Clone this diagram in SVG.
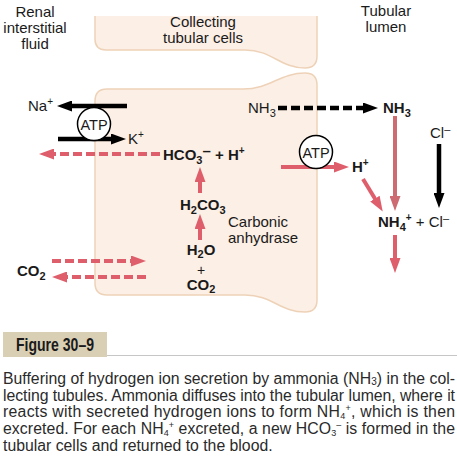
<svg xmlns="http://www.w3.org/2000/svg" width="457" height="458" viewBox="0 0 457 458">
<style>
text{font-family:"Liberation Sans",Arial,sans-serif;fill:#1a1a1a}
.lbl{font-size:15px}
.b{font-size:15px;font-weight:bold}
.cap{font-size:15.8px;fill:#2a2a2a}
.cell{fill:#fcefe5;stroke:#eed2b8;stroke-width:1.5}
.red{stroke:#de5f6b;stroke-width:4;fill:none}
.redd{stroke:#de5f6b;stroke-width:4;fill:none;stroke-dasharray:9 4}
.blk{stroke:#000;stroke-width:4.5;fill:none}
.blkd{stroke:#000;stroke-width:4.5;fill:none;stroke-dasharray:9 4}
.atp{fill:#fff;stroke:#000;stroke-width:1.5}
</style>
<defs>
<marker id="ar" markerUnits="userSpaceOnUse" markerWidth="15" markerHeight="11" refX="4" refY="5.5" orient="auto"><path d="M0,0 L15,5.5 L0,11 Z" fill="#de5f6b"/></marker>
<marker id="ab" markerUnits="userSpaceOnUse" markerWidth="15" markerHeight="11" refX="4" refY="5.5" orient="auto"><path d="M0,0 L15,5.5 L0,11 Z" fill="#000"/></marker>
<marker id="arm" markerUnits="userSpaceOnUse" markerWidth="15" markerHeight="11" refX="4" refY="5.5" orient="auto"><path d="M0,0 L15,5.5 L0,11 Z" fill="#cd6a72"/></marker>
</defs>

<g id="top-cell">
<path d="M95,16 L95,39 Q95,50 106,50 L245,50 C272,50 280,68 305,68 Q317,68 317,56 L317,16 Z" fill="#fcefe5"/>
<path class="cell" d="M95,16 L95,39 Q95,50 106,50 L245,50 C272,50 280,68 305,68 Q317,68 317,56 L317,16" fill="none"/>
<text class="lbl" x="203" y="27" text-anchor="middle">Collecting</text>
<text class="lbl" x="203" y="43" text-anchor="middle">tubular cells</text>
</g>

<g id="bottom-cell">
<path class="cell" d="M95,101 Q95,89 107,89 L243,89 C270,89 280,73 305,73 Q317,73 317,85 L317,300 Q317,312 305,312 C280,312 272,295 245,295 L107,295 Q95,295 95,283 Z"/>
</g>

<g id="labels">
<text class="lbl" x="35" y="17" text-anchor="middle">Renal</text>
<text class="lbl" x="35" y="33" text-anchor="middle">interstitial</text>
<text class="lbl" x="35" y="49" text-anchor="middle">fluid</text>
<text class="lbl" x="386" y="16" text-anchor="middle">Tubular</text>
<text class="lbl" x="386" y="32" text-anchor="middle">lumen</text>
</g>

<g id="connectors">
<line class="blk" x1="127" y1="106" x2="68" y2="106" marker-end="url(#ab)"/>
<line class="blk" x1="58" y1="139" x2="115" y2="139" marker-end="url(#ab)"/>
<line class="redd" x1="160" y1="154" x2="50" y2="154" marker-end="url(#ar)"/>
<line class="red" x1="200" y1="193" x2="200" y2="178" marker-end="url(#ar)"/>
<line class="red" x1="200" y1="240" x2="200" y2="225" marker-end="url(#ar)"/>
<line class="redd" x1="52" y1="261" x2="135" y2="261" marker-end="url(#ar)"/>
<line class="redd" x1="146" y1="277" x2="63" y2="277" marker-end="url(#ar)"/>
<line class="blkd" x1="278" y1="108" x2="367" y2="108" marker-end="url(#ab)"/>
<line class="red" x1="281" y1="167" x2="338" y2="167" marker-end="url(#ar)"/>
<line stroke="#cd6a72" stroke-width="4" x1="395" y1="116" x2="395" y2="200" marker-end="url(#arm)"/>
<line class="blk" x1="439" y1="144" x2="439" y2="197" marker-end="url(#ab)"/>
<line class="red" x1="363" y1="179" x2="377" y2="202" marker-end="url(#ar)"/>
<line class="red" x1="395" y1="235" x2="395" y2="262" marker-end="url(#ar)"/>
</g>

<g id="na-k-pump">
<circle class="atp" cx="94" cy="124" r="16.5"/>
<text x="94" y="129.5" font-size="14.5" text-anchor="middle">ATP</text>
<text class="lbl" x="28" y="111">Na<tspan font-size="10" dy="-6">+</tspan></text>
<text class="lbl" x="128" y="144">K<tspan font-size="10" dy="-6">+</tspan></text>
</g>

<g id="bicarbonate">
<text class="b" x="163" y="160">HCO<tspan font-size="11" dy="4">3</tspan><tspan dy="-8">–</tspan><tspan dy="4"> + H</tspan><tspan font-size="10" dy="-6">+</tspan></text>
</g>

<g id="carbonic-acid">
<text class="b" x="180" y="210">H<tspan font-size="11" dy="4">2</tspan><tspan dy="-4">CO</tspan><tspan font-size="11" dy="4">3</tspan></text>
</g>

<g id="carbonic-anhydrase">
<text class="lbl" x="228" y="227">Carbonic</text>
<text class="lbl" x="228" y="243">anhydrase</text>
</g>

<g id="water-co2">
<text class="b" x="201" y="255" text-anchor="middle">H<tspan font-size="11" dy="3">2</tspan><tspan dy="-3">O</tspan></text>
<text x="201" y="274.5" font-size="14" text-anchor="middle">+</text>
<text class="b" x="201" y="290" text-anchor="middle">CO<tspan font-size="11" dy="3">2</tspan></text>
</g>

<g id="co2-left">
<text class="b" x="17" y="276">CO<tspan font-size="11" dy="4">2</tspan></text>
</g>

<g id="nh3-cell">
<text class="lbl" x="248" y="113">NH<tspan font-size="11" dy="4">3</tspan></text>
</g>

<g id="nh3-lumen">
<text class="b" x="383" y="113">NH<tspan font-size="11" dy="4">3</tspan></text>
</g>

<g id="h-pump">
<circle class="atp" cx="316" cy="152" r="16.5"/>
<text x="316" y="157.5" font-size="14.5" text-anchor="middle">ATP</text>
<text class="b" x="352" y="172">H<tspan font-size="10" dy="-6">+</tspan></text>
</g>

<g id="cl-lumen">
<text class="lbl" x="430" y="138">Cl<tspan font-size="11" dy="-5">–</tspan></text>
</g>

<g id="nh4-cl">
<text class="b" x="378" y="227">NH<tspan font-size="11" dy="4">4</tspan><tspan font-size="10" dy="-10">+</tspan><tspan class="lbl" font-weight="normal" dy="6"> + Cl</tspan><tspan font-size="11" font-weight="normal" dy="-5">–</tspan></text>
</g>

<g id="caption">
<rect x="3" y="332" width="104" height="25" fill="#d9cfb4"/>
<line x1="107" y1="355.5" x2="457" y2="355.5" stroke="#c6c6c6" stroke-width="1"/>
<text x="16" y="351" font-family="'Liberation Sans Narrow','Roboto Condensed','Liberation Sans',sans-serif" font-size="18" font-weight="bold" textLength="78" lengthAdjust="spacingAndGlyphs" fill="#222">Figure 30–9</text>
<text class="cap" x="3" y="384" textLength="452" lengthAdjust="spacing">Buffering of hydrogen ion secretion by ammonia (NH<tspan font-size="10" dy="1">3</tspan><tspan dy="-1">) in the col-</tspan></text>
<text class="cap" x="3" y="400.7" textLength="452" lengthAdjust="spacing">lecting tubules. Ammonia diffuses into the tubular lumen, where it</text>
<text class="cap" x="3" y="417.3" textLength="452" lengthAdjust="spacing">reacts with secreted hydrogen ions to form NH<tspan font-size="9" dy="2">4</tspan><tspan font-size="9" dy="-8">+</tspan><tspan dy="6">, which is then</tspan></text>
<text class="cap" x="3" y="434" textLength="452" lengthAdjust="spacing">excreted. For each NH<tspan font-size="9" dy="2">4</tspan><tspan font-size="9" dy="-8">+</tspan><tspan dy="6"> excreted, a new HCO</tspan><tspan font-size="9" dy="2">3</tspan><tspan font-size="9" dy="-8">–</tspan><tspan dy="6"> is formed in the</tspan></text>
<text class="cap" x="3" y="450.7">tubular cells and returned to the blood.</text>
</g>
</svg>
